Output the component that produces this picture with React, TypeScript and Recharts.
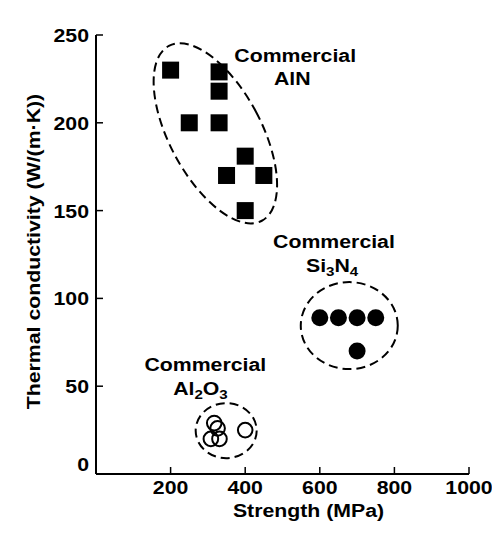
import React from 'react';
import { ScatterChart, Scatter, XAxis, YAxis, ReferenceDot } from 'recharts';

// Commercial AlN
const alnStrength = [200, 330, 330, 250, 330, 400, 350, 450, 400];
const alnConductivity = [230, 229, 218, 200, 200, 181, 170, 170, 150];
// Commercial Si3N4
const si3n4Strength = [600, 650, 700, 750, 700];
const si3n4Conductivity = [89, 89, 89, 89, 70];
// Commercial Al2O3
const al2o3Strength = [317, 326, 308, 331, 400];
const al2o3Conductivity = [29, 26, 20, 20, 25];

const xTicks = [200, 400, 600, 800, 1000];
const yTicks = [0, 50, 100, 150, 200, 250];

// group outlines (centre in data units)
const groupNames = ['AlN', 'Si3N4', 'Al2O3'];
const groupCenterX = [320, 679, 349];
const groupCenterY = [194, 84.5, 24.7];

// annotation anchors (data units)
const titleX = [534, 638, 293];
const titleY = [234.6, 128.7, 58.7];
const formulaX = [526, 633, 280];
const formulaY = [221.5, 115, 45];
const formulas = [
  [{ t: 'AlN' }],
  [{ t: 'Si' }, { t: '3', sub: true }, { t: 'N' }, { t: '4', sub: true }],
  [{ t: 'Al' }, { t: '2', sub: true }, { t: 'O' }, { t: '3', sub: true }],
];

const zip = (xs: number[], ys: number[]) => xs.map((x, i) => ({ x, y: ys[i] }));
const alnData = zip(alnStrength, alnConductivity);
const si3n4Data = zip(si3n4Strength, si3n4Conductivity);
const al2o3Data = zip(al2o3Strength, al2o3Conductivity);

const FONT = '"Liberation Sans", Arial, sans-serif';
const FS = 19;
const STRETCH = 1.12;

const ellipseStyle = [
  { rx: 46, ry: 99, rot: -28 },
  { rx: 48.5, ry: 43.5, rot: 0 },
  { rx: 30.5, ry: 27.5, rot: 0 },
];

const StretchText = ({ x, y, anchor = 'middle', rotate = 0, size = FS, children }: any) => (
  <text
    transform={`translate(${x},${y}) rotate(${rotate}) scale(${STRETCH},1)`}
    x={0}
    y={0}
    textAnchor={anchor}
    fontFamily={FONT}
    fontWeight="bold"
    fontSize={size}
    fill="#000"
  >
    {children}
  </text>
);

const SquareShape = (p: any) => (
  <rect x={p.cx - 8.5} y={p.cy - 8.5} width={17} height={17} fill="#000" />
);
const FilledCircle = (p: any) => <circle cx={p.cx} cy={p.cy} r={8.5} fill="#000" />;
const OpenCircle = (p: any) => (
  <circle cx={p.cx} cy={p.cy} r={7.3} fill="#fff" fillOpacity={0} stroke="#000" strokeWidth={2} />
);

const renderFormula = (parts: any[]) => (p: any) => {
  let prevSub = false;
  return (
    <StretchText x={p.cx} y={p.cy}>
      {parts.map((part, i) => {
        let dy = 0;
        if (part.sub && !prevSub) dy = 4;
        if (!part.sub && prevSub) dy = -4;
        prevSub = !!part.sub;
        return (
          <tspan key={i} dy={dy} fontSize={part.sub ? 13.5 : FS}>
            {part.t}
          </tspan>
        );
      })}
    </StretchText>
  );
};

const renderTitle = (p: any) => (
  <StretchText x={p.cx} y={p.cy}>
    Commercial
  </StretchText>
);

const renderEllipse = (i: number) => (p: any) => (
  <ellipse
    cx={p.cx}
    cy={p.cy}
    rx={ellipseStyle[i].rx}
    ry={ellipseStyle[i].ry}
    transform={`rotate(${ellipseStyle[i].rot} ${p.cx} ${p.cy})`}
    fill="none"
    stroke="#000"
    strokeWidth={2}
    strokeDasharray="9 5"
  />
);

const XTick = (p: any) => (
  <StretchText x={p.x} y={p.y + 19}>
    {p.payload.value}
  </StretchText>
);
const YTick = (p: any) => (
  <StretchText x={p.x} y={p.y + 7 - (p.payload.value === 0 ? 10 : 0)} anchor="end">
    {p.payload.value}
  </StretchText>
);

const XTitle = (p: any) => {
  const vb = p.viewBox || {};
  return (
    <StretchText x={vb.x + vb.width / 2 + 26} y={vb.y + 43}>
      Strength (MPa)
    </StretchText>
  );
};
const YTitle = (p: any) => {
  const vb = p.viewBox || {};
  return (
    <StretchText x={31.5} y={vb.y + vb.height / 2 - 3} rotate={-90}>
      {'Thermal conductivity (W/(m\u00B7K))'}
    </StretchText>
  );
};

export default function App() {
  return (
    <ScatterChart width={492} height={544} margin={{ top: 27, right: 31, left: 0, bottom: 28 }}>
      <XAxis
        type="number"
        dataKey="x"
        domain={[0, 1000]}
        ticks={xTicks}
        interval={0}
        height={50}
        tickSize={-7}
        tickMargin={8}
        tick={XTick}
        axisLine={{ stroke: '#000', strokeWidth: 2 }}
        tickLine={{ stroke: '#000', strokeWidth: 1.5 }}
        label={{ content: XTitle }}
      />
      <XAxis xAxisId="top" orientation="top" type="number" domain={[0, 1000]} height={0} tick={false} tickLine={false} axisLine={{ stroke: '#000', strokeWidth: 2 }} />
      <YAxis
        type="number"
        dataKey="y"
        domain={[0, 250]}
        ticks={yTicks}
        interval={0}
        width={88}
        tickSize={-7}
        tickMargin={14}
        tick={YTick}
        axisLine={{ stroke: '#000', strokeWidth: 2 }}
        tickLine={{ stroke: '#000', strokeWidth: 1.5 }}
        label={{ content: YTitle }}
      />
      <YAxis yAxisId="right" orientation="right" type="number" domain={[0, 250]} width={0} tick={false} tickLine={false} axisLine={{ stroke: '#000', strokeWidth: 2 }} />

      {groupNames.map((n, i) => (
        <ReferenceDot key={'e' + n} x={groupCenterX[i]} y={groupCenterY[i]} shape={renderEllipse(i)} />
      ))}
      {groupNames.map((n, i) => (
        <ReferenceDot key={'t' + n} x={titleX[i]} y={titleY[i]} shape={renderTitle} />
      ))}
      {groupNames.map((n, i) => (
        <ReferenceDot key={'f' + n} x={formulaX[i]} y={formulaY[i]} shape={renderFormula(formulas[i])} />
      ))}

      <Scatter name="Commercial AlN" data={alnData} shape={SquareShape} isAnimationActive={false} />
      <Scatter name="Commercial Si3N4" data={si3n4Data} shape={FilledCircle} isAnimationActive={false} />
      <Scatter name="Commercial Al2O3" data={al2o3Data} shape={OpenCircle} isAnimationActive={false} />
    </ScatterChart>
  );
}
